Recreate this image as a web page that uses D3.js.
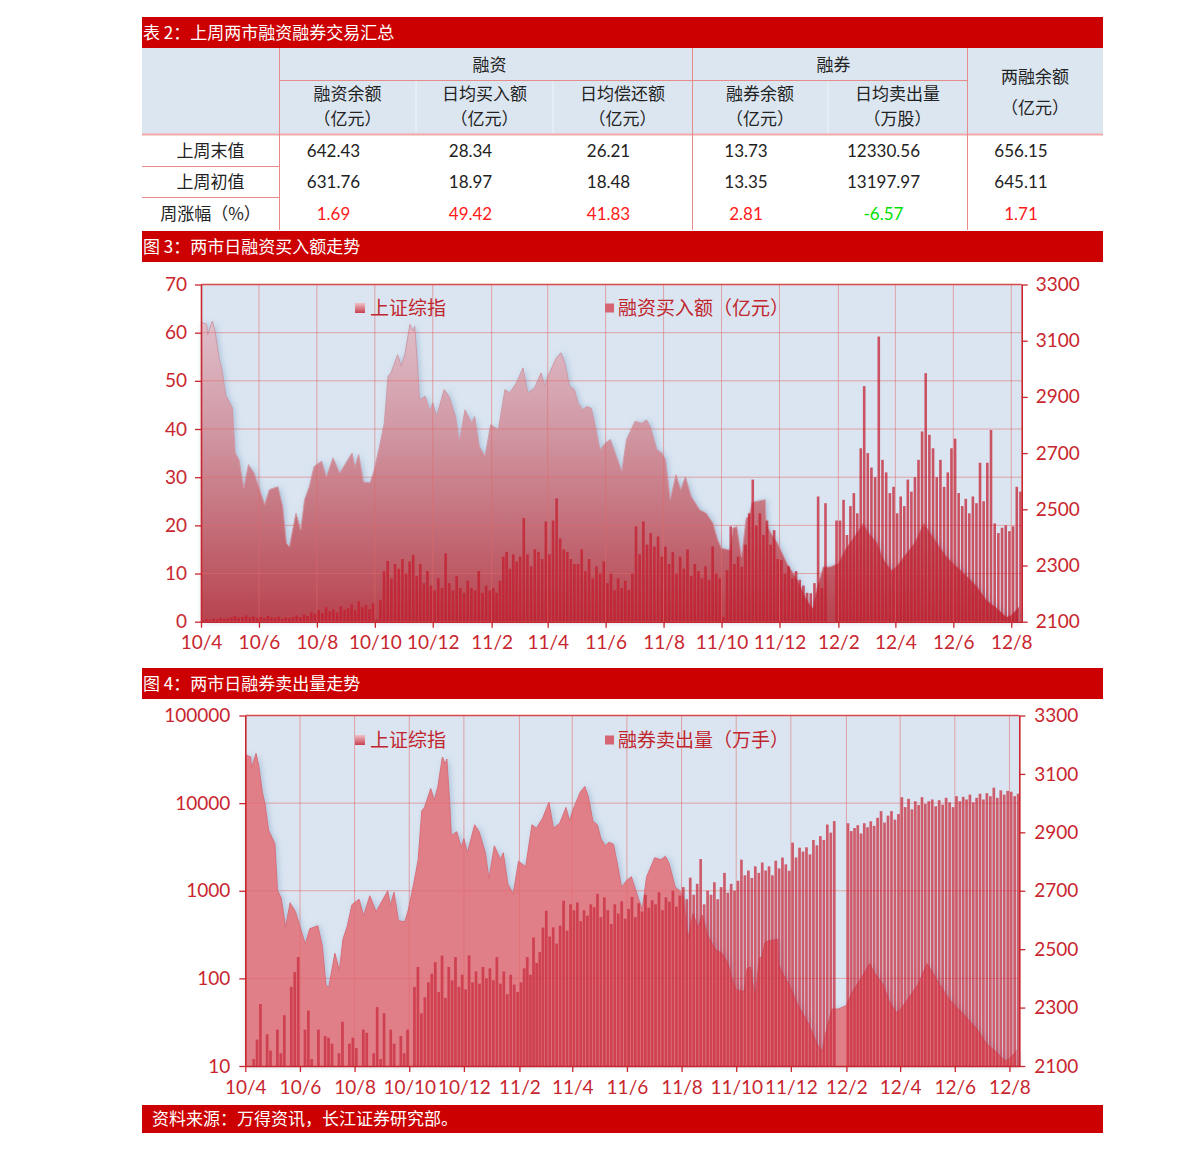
<!DOCTYPE html>
<html>
<head>
<meta charset="utf-8">
<script src="https://cdn.jsdelivr.net/npm/d3@7"></script>
<style>
  body { margin: 0; background: #fff; }
  .num { font-family: "Lato", "Noto Sans CJK SC", sans-serif; }
  .cjk { font-family: "Noto Sans CJK SC", "Noto Sans", sans-serif; }
</style>
</head>
<body>
<svg id="page" width="1191" height="1151"></svg>
<script>
// ---- table 2 ----
var tblRowNames = ["上周末值", "上周初值", "周涨幅（%）"];
var tblGroups = [["融资", 1, 4], ["融券", 4, 6]];
var tblCols = [["融资余额", "（亿元）"], ["日均买入额", "（亿元）"], ["日均偿还额", "（亿元）"],
  ["融券余额", "（亿元）"], ["日均卖出量", "（万股）"], ["两融余额", "（亿元）"]];
var tblEnd = ["642.43", "28.34", "26.21", "13.73", "12330.56", "656.15"];
var tblStart = ["631.76", "18.97", "18.48", "13.35", "13197.97", "645.11"];
var tblChg = ["1.69", "49.42", "41.83", "2.81", "-6.57", "1.71"];

// ---- x axis labels (year/month) ----
var xTicks = ["10/4", "10/6", "10/8", "10/10", "10/12", "11/2", "11/4", "11/6",
  "11/8", "11/10", "11/12", "12/2", "12/4", "12/6", "12/8"];

// ---- 上证综指 ----
var shIndex = [
  ["2010-04-01",3166],["2010-04-07",3158],["2010-04-08",3120],["2010-04-13",3170],["2010-04-16",3129],
  ["2010-04-20",3038],["2010-04-23",2997],["2010-04-27",2907],["2010-05-04",2861],["2010-05-07",2700],
  ["2010-05-11",2676],["2010-05-16",2575],["2010-05-21",2659],["2010-05-27",2628],["2010-06-07",2517],
  ["2010-06-12",2570],["2010-06-21",2580],["2010-06-26",2510],["2010-06-30",2379],["2010-07-03",2367],
  ["2010-07-10",2486],["2010-07-15",2426],["2010-07-19",2534],["2010-07-24",2580],["2010-07-29",2652],
  ["2010-08-06",2671],["2010-08-11",2614],["2010-08-18",2683],["2010-08-25",2628],["2010-09-07",2700],
  ["2010-09-10",2649],["2010-09-14",2695],["2010-09-19",2597],["2010-09-26",2594],["2010-09-30",2635],
  ["2010-10-06",2724],["2010-10-11",2806],["2010-10-15",2974],["2010-10-18",2985],["2010-10-25",3050],
  ["2010-10-29",3009],["2010-11-02",3057],["2010-11-07",3158],["2010-11-10",3134],["2010-11-12",3151],
  ["2010-11-15",3009],["2010-11-17",2889],["2010-11-23",2902],["2010-11-28",2849],["2010-12-01",2878],
  ["2010-12-05",2830],["2010-12-13",2926],["2010-12-18",2902],["2010-12-25",2830],["2010-12-29",2741],
  ["2011-01-04",2854],["2011-01-11",2806],["2011-01-14",2830],["2011-01-19",2724],["2011-01-25",2688],
  ["2011-01-31",2801],["2011-02-08",2782],["2011-02-15",2926],["2011-02-20",2914],["2011-02-27",2949],
  ["2011-03-06",3003],["2011-03-11",2914],["2011-03-18",2931],["2011-03-25",2985],["2011-03-29",2938],
  ["2011-04-02",2979],["2011-04-10",3038],["2011-04-15",3057],["2011-04-19",3021],["2011-04-24",2938],
  ["2011-04-29",2926],["2011-05-03",2878],["2011-05-08",2854],["2011-05-12",2866],["2011-05-17",2859],
  ["2011-05-22",2782],["2011-05-26",2712],["2011-06-01",2736],["2011-06-06",2748],["2011-06-11",2700],
  ["2011-06-18",2635],["2011-06-23",2748],["2011-07-02",2813],["2011-07-09",2806],["2011-07-14",2818],
  ["2011-07-18",2794],["2011-07-25",2712],["2011-07-30",2700],["2011-08-03",2676],["2011-08-08",2534],
  ["2011-08-14",2623],["2011-08-19",2570],["2011-08-24",2616],["2011-08-30",2546],["2011-09-08",2498],
  ["2011-09-15",2486],["2011-09-22",2450],["2011-09-27",2391],["2011-10-01",2361],["2011-10-10",2355],
  ["2011-10-13",2433],["2011-10-17",2439],["2011-10-22",2331],["2011-10-27",2469],["2011-10-30",2474],
  ["2011-11-02",2522],["2011-11-05",2527],["2011-11-16",2534],["2011-11-17",2450],["2011-11-22",2415],
  ["2011-11-29",2379],["2011-12-09",2307],["2011-12-20",2249],["2011-12-30",2177],["2012-01-05",2148],
  ["2012-01-09",2213],["2012-01-16",2295],["2012-01-23",2295],["2012-02-01",2307],["2012-02-08",2355],
  ["2012-02-18",2403],["2012-02-27",2450],["2012-03-04",2415],["2012-03-13",2379],["2012-03-20",2319],
  ["2012-03-28",2283],["2012-04-02",2295],["2012-04-10",2331],["2012-04-21",2379],["2012-05-01",2450],
  ["2012-05-08",2415],["2012-05-15",2379],["2012-05-25",2331],["2012-06-01",2307],["2012-06-09",2283],
  ["2012-06-19",2249],["2012-06-26",2225],["2012-07-06",2177],["2012-07-17",2148],["2012-07-27",2117],
  ["2012-08-01",2124],["2012-08-06",2141],["2012-08-09",2153]
];

// ---- 融资买入额（亿元）, 8 slots per month from 2010-04 ----
var finBuy = [
  0.3,0.5,0.4,0.6,0.5,0.8,0.6,0.7,
  0.9,1.2,0.8,1.0,1.3,0.9,1.1,0.8,
  1.0,0.7,1.2,0.9,0.8,1.1,0.6,0.9,
  0.7,1.0,1.3,0.9,1.5,1.2,2.0,1.6,
  2.4,1.8,3.0,2.2,2.6,1.9,3.2,2.5,
  2.8,3.6,2.4,4.2,3.0,3.5,2.6,3.8,
  0.5,4.5,10.5,12.6,9.0,12.0,11.0,13.0,
  10.0,12.5,13.9,9.5,12.0,8.0,10.5,7.5,
  6.5,9.0,7.0,14.2,8.0,6.5,9.5,7.0,
  6.0,8.5,7.0,6.5,10.5,6.0,7.5,6.5,
  7.0,6.0,8.5,13.5,14.5,11.0,14.0,12.5,
  13.5,21.5,14.0,11.5,15.0,14.5,13.0,20.8,
  14.0,21.0,25.6,17.3,15.0,14.5,13.0,12.0,
  12.0,15.0,10.5,13.0,9.0,11.5,10.0,12.5,
  8.0,10.0,6.5,9.0,7.0,8.5,6.6,10.0,
  19.8,14.0,20.8,16.0,18.4,15.6,17.7,13.5,
  15.6,12.0,14.5,10.0,13.5,11.0,15.0,9.5,
  12.0,10.5,9.0,11.5,8.7,15.6,10.0,9.0,
  1.0,10.7,19.8,12.0,13.5,11.4,16.0,22.5,
  29.5,20.0,22.5,18.0,21.0,16.0,19.0,13.0,
  12.8,10.0,11.5,9.0,10.5,8.7,7.5,6.0,
  5.9,8.0,26.0,7.0,24.6,0,0,21.0,
  21.0,25.3,18.0,24.0,26.7,22.5,36.0,48.9,
  35.0,32.0,30.0,59.2,33.6,31.0,26.7,28.0,
  22.5,26.0,24.0,29.5,27.0,30.0,33.6,39.5,
  51.6,38.8,36.0,30.0,33.6,28.0,31.0,36.0,
  38.0,26.7,24.0,25.5,22.5,26.0,24.6,33.0,
  25.0,33.0,39.8,20.4,18.4,19.5,20.0,18.8,
  19.8,28.0,27.0
];

// ---- 融券卖出量（万手）, 8 slots per month from 2010-04 ----
var slSell = [
  0,0,12,20,51,0,23,15,
  0,26,14,38,0,80,118,175,
  0,26,43,12,0,26,0,22,
  21,18,0,14,32,0,18,21,
  16,0,26,24,0,14,47,12,
  40,0,26,18,0,22,14,26,
  0,80,135,40,61,90,113,153,
  70,182,60,135,95,175,80,110,
  75,183,90,120,87,135,100,130,
  95,175,87,120,66,110,85,70,
  90,130,175,110,293,150,200,380,
  591,300,383,250,400,771,350,700,
  600,735,450,600,520,700,650,920,
  500,840,600,418,700,550,760,480,
  620,850,500,720,580,900,640,780,
  700,960,600,840,750,1000,660,880,
  1100,800,1410,900,1200,2300,700,1000,
  900,1250,800,1100,1600,950,1200,1000,
  1300,2260,1500,1700,1400,1900,1600,2100,
  1700,1900,1500,2200,1800,2390,2000,1690,
  3540,2400,3100,2800,3130,2600,3800,3300,
  4200,3800,5700,4600,6240,0,0,0,
  5900,4800,5200,5600,4500,5900,5300,6200,
  5500,6800,8100,6000,7200,8100,6500,7500,
  11700,9000,11200,8500,10500,9500,11700,9800,
  10500,11000,9200,10800,9600,11500,10200,9000,
  12000,10500,11800,11000,12500,10200,11500,12800,
  11000,13000,12000,15000,11500,14000,12500,13800,
  13500,12000,12800
];

var svg = d3.select("#page");
var red = "#cc0000";
var axisRed = "#c8262e";
var parse = d3.timeParse("%Y-%m-%d");
var tStart = new Date(2010, 3, 1);
var tEnd = new Date(2012, 7, 12);

var idx = shIndex.map(function(d) { return { date: parse(d[0]), value: d[1] }; });
var tickDates = xTicks.map(function(s) {
  var p = s.split("/");
  return new Date(2000 + Number(p[0]), Number(p[1]) - 1, 1);
});

function slotDate(i) {
  var m0 = d3.timeMonth.offset(tStart, Math.floor(i / 8));
  var m1 = d3.timeMonth.offset(m0, 1);
  return new Date(+m0 + ((i % 8) + 0.5) / 8 * (m1 - m0));
}

// ---- defs ----
var defs = svg.append("defs");
var g1 = defs.append("linearGradient").
  attr("id", "g1").attr("gradientUnits", "userSpaceOnUse").
  attr("x1", 0).attr("x2", 0).attr("y1", 284).attr("y2", 622);
[[0, "#e4ccd7"], [0.4, "#d29ca8"], [0.7, "#c4717c"], [1, "#b8434e"]].forEach(function(s) {
  g1.append("stop").attr("offset", s[0]).attr("stop-color", s[1]);
});
var gl = defs.append("linearGradient").attr("id", "gleg").
  attr("x1", 0).attr("x2", 0).attr("y1", 0).attr("y2", 1);
gl.append("stop").attr("offset", 0).attr("stop-color", "#f0c0c8");
gl.append("stop").attr("offset", 1).attr("stop-color", "#c84050");

var glow = defs.append("filter").attr("id", "glow").
  attr("x", "-5%").attr("y", "-10%").attr("width", "110%").attr("height", "120%");
glow.append("feGaussianBlur").attr("in", "SourceAlpha").attr("stdDeviation", 3).attr("result", "b");
glow.append("feOffset").attr("in", "b").attr("dx", 2).attr("dy", 0).attr("result", "o");
glow.append("feFlood").attr("flood-color", "#7fa3c8").attr("flood-opacity", 0.55).attr("result", "f");
glow.append("feComposite").attr("in", "f").attr("in2", "o").attr("operator", "in").attr("result", "s");
var mg = glow.append("feMerge");
mg.append("feMergeNode").attr("in", "s");
mg.append("feMergeNode").attr("in", "SourceGraphic");

// ---- red banners ----
function banner(y, h, x, label) {
  svg.append("rect").attr("x", 142).attr("y", y).attr("width", 961).attr("height", h).attr("fill", red);
  svg.append("text").attr("class", "cjk").
    attr("x", x).attr("y", y + h / 2).attr("dy", "0.36em").
    attr("fill", "#fff").attr("font-size", 17).text(label);
}
banner(17, 31, 143, "表 2：上周两市融资融券交易汇总");
banner(231, 31, 143, "图 3：两市日融资买入额走势");
banner(668, 31, 143, "图 4：两市日融券卖出量走势");
banner(1105, 28, 152, "资料来源：万得资讯，长江证券研究部。");

// ---- table ----
var colX = [142, 279, 416, 553, 692, 828, 967, 1103];
var lineCol = "#e88a8a";
svg.append("rect").attr("x", 142).attr("y", 48).attr("width", 961).attr("height", 86).attr("fill", "#dce6f1");
[416, 553, 828].forEach(function(x) {
  svg.append("line").attr("x1", x).attr("x2", x).attr("y1", 81).attr("y2", 134).
    attr("stroke", "#eef3f9").attr("stroke-width", 1);
});
svg.append("line").attr("x1", 279).attr("x2", 967).attr("y1", 80.5).attr("y2", 80.5).
  attr("stroke", lineCol).attr("stroke-width", 1);
svg.append("line").attr("x1", 142).attr("x2", 1103).attr("y1", 134.5).attr("y2", 134.5).
  attr("stroke", "#f2a8a8").attr("stroke-width", 2);
[279.5, 692.5, 967.5].forEach(function(x) {
  svg.append("line").attr("x1", x).attr("x2", x).attr("y1", 48).attr("y2", 230).
    attr("stroke", lineCol).attr("stroke-width", 1);
});
[166.5, 197.5].forEach(function(y) {
  svg.append("line").attr("x1", 142).attr("x2", 279).attr("y1", y).attr("y2", y).
    attr("stroke", lineCol).attr("stroke-width", 1);
});

tblGroups.forEach(function(gr) {
  svg.append("text").attr("class", "cjk").
    attr("x", (colX[gr[1]] + colX[gr[2]]) / 2 + 4).attr("y", 65).attr("dy", "0.36em").
    attr("text-anchor", "middle").attr("font-size", 17).attr("fill", "#222").text(gr[0]);
});
tblCols.forEach(function(c, i) {
  var cx = (colX[i + 1] + colX[i + 2]) / 2;
  var ys = i === 5 ? [77, 108] : [94, 119];
  c.forEach(function(t, k) {
    svg.append("text").attr("class", "cjk").
      attr("x", cx).attr("y", ys[k]).attr("dy", "0.36em").
      attr("text-anchor", "middle").attr("font-size", 17).attr("fill", "#222").text(t);
  });
});

var rowY = [151, 182, 214];
tblRowNames.forEach(function(t, r) {
  svg.append("text").attr("class", "cjk").
    attr("x", 210.5).attr("y", rowY[r]).attr("dy", "0.36em").
    attr("text-anchor", "middle").attr("font-size", 17).attr("fill", "#222").text(t);
});
[tblEnd, tblStart, tblChg].forEach(function(row, r) {
  row.forEach(function(v, i) {
    var cx = (colX[i + 1] + colX[i + 2]) / 2 - 14;
    var col = "#222";
    if (r === 2) col = Number(v) < 0 ? "#00e000" : "#ff1a1a";
    svg.append("text").attr("class", "num").
      attr("x", cx).attr("y", rowY[r]).attr("dy", "0.36em").
      attr("text-anchor", "middle").attr("font-size", 17).attr("fill", col).text(v);
  });
});

// ---- charts ----
function drawChart(cfg) {
  var g = svg.append("g");
  var x = d3.scaleTime().domain([tStart, tEnd]).range([cfg.left, cfg.right]);
  var yIdx = d3.scaleLinear().domain([2100, 3300]).range([cfg.bottom, cfg.top]);
  var yBar = cfg.yBar.range([cfg.bottom, cfg.top]);
  var w = cfg.right - cfg.left, h = cfg.bottom - cfg.top;

  g.append("rect").attr("x", cfg.left).attr("y", cfg.top).
    attr("width", w).attr("height", h).attr("fill", "#dbe5f1");

  var area = d3.area().
    x(function(d) { return x(d.date); }).
    y0(cfg.bottom).
    y1(function(d) { return yIdx(d.value); });
  var edge = d3.line().
    x(function(d) { return x(d.date); }).
    y(function(d) { return yIdx(d.value); });

  g.append("path").datum(idx).attr("d", area).
    attr("fill", cfg.areaFill).attr("filter", "url(#glow)");
  g.append("path").datum(idx).attr("d", edge).
    attr("fill", "none").attr("stroke", cfg.edge).attr("stroke-width", 1);

  // grid
  cfg.leftTicks.slice(1, -1).forEach(function(t) {
    g.append("line").attr("x1", cfg.left).attr("x2", cfg.right).
      attr("y1", yBar(t)).attr("y2", yBar(t)).
      attr("stroke", "#e06a6a").attr("stroke-opacity", 0.55).attr("stroke-width", 1);
  });
  tickDates.slice(1).forEach(function(t) {
    g.append("line").attr("x1", x(t)).attr("x2", x(t)).
      attr("y1", cfg.top).attr("y2", cfg.bottom).
      attr("stroke", "#e06a6a").attr("stroke-opacity", 0.55).attr("stroke-width", 1);
  });

  // bars
  var bars = cfg.bars.map(function(v, i) { return { date: slotDate(i), value: v }; }).
    filter(function(d) { return d.value > cfg.barMin; });
  g.selectAll("rect.bar").data(bars).join("rect").
    attr("class", "bar").
    attr("x", function(d) { return x(d.date) - cfg.barW / 2; }).
    attr("y", function(d) { return yBar(d.value); }).
    attr("width", cfg.barW).
    attr("height", function(d) { return cfg.bottom - yBar(d.value); }).
    attr("fill", cfg.barFill).attr("fill-opacity", 0.72);

  // top border
  g.append("line").attr("x1", cfg.left).attr("x2", cfg.right).
    attr("y1", cfg.top).attr("y2", cfg.top).
    attr("stroke", "#d84a4a").attr("stroke-width", 1.5);

  // axes
  var yl = d3.axisLeft(yBar).tickValues(cfg.leftTicks).tickFormat(d3.format("d")).
    tickSize(6).tickSizeOuter(0).tickPadding(cfg.pad);
  var yr = d3.axisRight(yIdx).tickValues([2100, 2300, 2500, 2700, 2900, 3100, 3300]).
    tickFormat(d3.format("d")).tickSize(6).tickSizeOuter(0).tickPadding(cfg.pad);
  var xa = d3.axisBottom(x).tickValues(tickDates).
    tickFormat(function(d, i) { return xTicks[i]; }).
    tickSize(6).tickSizeOuter(0).tickPadding(cfg.xpad);

  var gl = g.append("g").attr("transform", "translate(" + cfg.left + ",0)").call(yl);
  var gr = g.append("g").attr("transform", "translate(" + cfg.right + ",0)").call(yr);
  var gx = g.append("g").attr("transform", "translate(0," + cfg.bottom + ")").call(xa);
  [gl, gr, gx].forEach(function(a) {
    a.select(".domain").attr("stroke", axisRed).attr("stroke-width", 1.6);
    a.selectAll(".tick line").attr("stroke", axisRed).attr("stroke-width", 1.3);
    a.selectAll(".tick text").attr("class", "num").
      attr("fill", axisRed).attr("font-size", 19);
  });

  // legend
  g.append("rect").attr("x", 355).attr("y", cfg.legY - 5).attr("width", 10).attr("height", 10).
    attr("fill", cfg.legFill1);
  g.append("text").attr("class", "cjk").attr("x", 370).attr("y", cfg.legY).attr("dy", "0.36em").
    attr("fill", "#c0262d").attr("font-size", 19).text("上证综指");
  g.append("rect").attr("x", 605).attr("y", cfg.legY - 4.5).attr("width", 9).attr("height", 9).
    attr("fill", "#d66472");
  g.append("text").attr("class", "cjk").attr("x", 618).attr("y", cfg.legY).attr("dy", "0.36em").
    attr("fill", "#c0262d").attr("font-size", 19).text(cfg.barName);
}

drawChart({
  left: 201, right: 1021.7, top: 284.5, bottom: 621.7,
  yBar: d3.scaleLinear().domain([0, 70]),
  leftTicks: [0, 10, 20, 30, 40, 50, 60, 70],
  bars: finBuy, barMin: 0, barW: 2.6, barFill: "#c41a2c",
  areaFill: "url(#g1)", edge: "#cf9aa6",
  pad: 8, xpad: 8,
  legY: 308, legFill1: "url(#gleg)",
  barName: "融资买入额（亿元）"
});

drawChart({
  left: 245.3, right: 1019.3, top: 715.5, bottom: 1066,
  yBar: d3.scaleLog().domain([10, 100000]),
  leftTicks: [10, 100, 1000, 10000, 100000],
  bars: slSell, barMin: 10, barW: 2.7, barFill: "#c8283a",
  areaFill: "#e17f88", edge: "#d9707a",
  pad: 9, xpad: 9,
  legY: 740, legFill1: "url(#gleg)",
  barName: "融券卖出量（万手）"
});
</script>
</body>
</html>
